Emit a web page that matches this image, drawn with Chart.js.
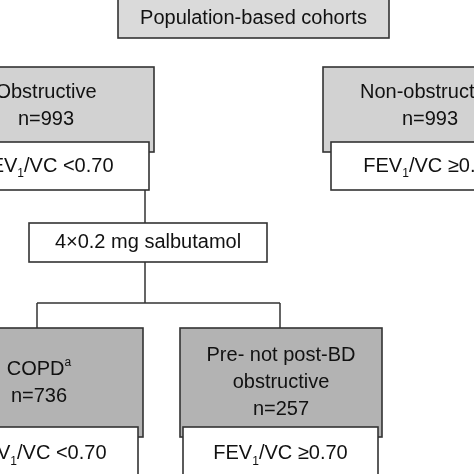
<!DOCTYPE html>
<html><head><meta charset="utf-8">
<script src="https://cdn.jsdelivr.net/npm/chart.js@4"></script>
<style>html,body{margin:0;padding:0;background:#fff}#wrap{width:474px;height:474px}</style>
</head><body><div id="wrap"><canvas id="c"></canvas></div>
<script>
// flowchart nodes: label lines, fill colour
const boxLines = [
  ['Population-based cohorts'],
  ['Obstructive', 'n=993'],
  ['FEV|1|/VC <0.70'],
  ['Non-obstructive', 'n=993'],
  ['FEV|1|/VC \u22650.70'],
  ['4\u00d70.2 mg salbutamol'],
  ['COPD^a', 'n=736'],
  ['FEV|1|/VC <0.70'],
  ['Pre- not post-BD', 'obstructive', 'n=257'],
  ['FEV|1|/VC \u22650.70']
];
const boxFill = ['#dadada', '#d2d2d2', '#ffffff', '#d2d2d2', '#ffffff', '#ffffff', '#b3b3b3', '#ffffff', '#b3b3b3', '#ffffff'];
// box extents in chart units
const boxX0 = [118, -62, -57, 323, 331, 29, -65, -60, 180, 183];
const boxX1 = [389, 154, 149, 537, 530, 267, 143, 138, 382, 378];
const boxY0 = [-2, 67, 142, 67, 142, 223, 328, 427, 328, 427];
const boxY1 = [38, 152, 190, 152, 190, 262, 437, 480, 437, 480];

// connector polyline points (null breaks)
const connX = [145, 145, null, 145, 145, null, 37, 280, null, 37, 37, null, 280, 280];
const connY = [190, 223, null, 262, 303, null, 303, 303, null, 303, 328, null, 303, 328];

const connData = connX.map((x, i) => x === null ? {x: null, y: null} : {x, y: connY[i]});

function drawRich(ctx, text, cx, cy, size) {
  const parts = [];
  const re = /\|(.*?)\||\^(.)/g;
  let last = 0, m;
  while ((m = re.exec(text))) {
    if (m.index > last) parts.push({t: text.slice(last, m.index), k: 'n'});
    if (m[1] !== undefined) parts.push({t: m[1], k: 'sub'}); else parts.push({t: m[2], k: 'sup'});
    last = re.lastIndex;
  }
  if (last < text.length) parts.push({t: text.slice(last), k: 'n'});
  const fn = k => (k === 'n' ? size : Math.round(size * 0.6)) + 'px "Liberation Sans", Arial, sans-serif';
  let w = 0;
  parts.forEach(p => { ctx.font = fn(p.k); p.w = ctx.measureText(p.t).width; w += p.w; });
  let x = cx - w / 2;
  ctx.textBaseline = 'middle';
  ctx.textAlign = 'left';
  parts.forEach(p => {
    ctx.font = fn(p.k);
    const dy = p.k === 'sub' ? size * 0.4 : p.k === 'sup' ? -size * 0.3 : 0;
    ctx.fillText(p.t, x, cy + dy);
    x += p.w;
  });
}

const boxesPlugin = {
  id: 'boxes',
  afterDatasetsDraw(chart) {
    const {ctx, scales: {x, y}} = chart;
    ctx.save();
    boxLines.forEach((lines, i) => {
      const l = x.getPixelForValue(boxX0[i]), r = x.getPixelForValue(boxX1[i]);
      const t = y.getPixelForValue(boxY0[i]), b = y.getPixelForValue(boxY1[i]);
      ctx.fillStyle = boxFill[i];
      ctx.fillRect(l, t, r - l, b - t);
      ctx.strokeStyle = '#333';
      ctx.lineWidth = 1.6;
      ctx.strokeRect(l, t, r - l, b - t);
      ctx.fillStyle = '#111';
      const lh = 27, cx = (l + r) / 2;
      const cy = (t + b) / 2 - (lines.length > 1 && b - t < 100 ? 4 : 0);
      lines.forEach((s, j) => drawRich(ctx, s, cx, cy + (j - (lines.length - 1) / 2) * lh, 20));
    });
    ctx.restore();
  }
};

new Chart(document.getElementById('c'), {
  type: 'scatter',
  data: {
    datasets: [{
      data: connData,
      showLine: true,
      spanGaps: false,
      borderColor: '#333',
      borderWidth: 1.5,
      pointRadius: 0
    }]
  },
  options: {
    responsive: true,
    maintainAspectRatio: false,
    animation: false,
    layout: {padding: 0},
    plugins: {legend: {display: false}, tooltip: {enabled: false}},
    scales: {
      x: {type: 'linear', min: 0, max: 474, display: false},
      y: {type: 'linear', min: 0, max: 474, reverse: true, display: false}
    }
  },
  plugins: [boxesPlugin]
});
</script>
</body></html>
